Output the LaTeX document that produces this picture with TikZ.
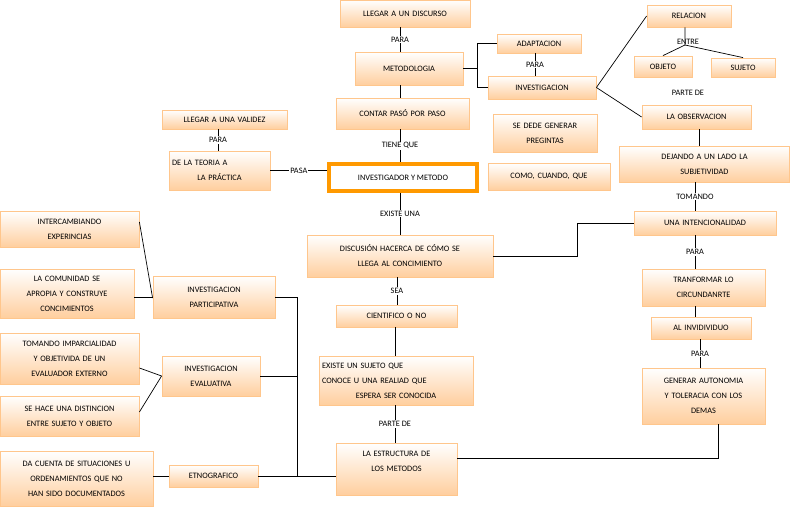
\documentclass[tikz,border=0pt]{standalone}
\usepackage{fontspec}
\setmainfont{Carlito}
\begin{document}
\begin{tikzpicture}[x=1pt,y=-1pt,
 box/.style={draw=orange!45,line width=0.8pt,top color=white,bottom color=orange!38,inner sep=1pt,align=center,font=\fontsize{8.3}{15}\selectfont},
 lbl/.style={fill=white,inner sep=1pt,font=\fontsize{8.3}{10}\selectfont},
 ln/.style={draw=black,line width=0.7pt}]
\useasboundingbox (0,0) rectangle (790,526);
\newcommand\bx[6]{\node[box,minimum width=#4pt,minimum height=#5pt,text width=#4pt-6pt] (#1) at (#2,#3) {#6};}
\bx{d1}{405}{13.5}{130}{27}{LLEGAR A UN DISCURSO}
\bx{met}{409}{68.5}{108}{33}{METODOLOGIA}
\bx{con}{402.5}{113.5}{133}{31}{CONTAR PASÓ POR PASO}
\node[draw=orange!80!yellow,line width=3.5pt,fill=white,minimum width=148pt,minimum height=27pt,font=\fontsize{8.3}{10}\selectfont] (inv) at (403,177.5) {INVESTIGADOR Y METODO};
\bx{ada}{539}{43.5}{84}{19}{ADAPTACION}
\bx{ivg}{542}{87.5}{108}{23}{\raggedright INVESTIGACION}
\bx{rel}{689}{16}{84}{22}{RELACION}
\bx{obj}{663}{66.5}{58}{21}{OBJETO}
\bx{suj}{743}{67.5}{64}{19}{SUJETO}
\bx{obs}{696.5}{117}{109}{24}{\raggedright LA OBSERVACION}
\bx{sed}{545}{133}{104}{38}{SE DEDE GENERAR\\PREGINTAS}
\bx{com}{549}{176.5}{122}{27}{COMO, CUANDO, QUE}
\bx{dej}{704.5}{164}{170}{36}{DEJANDO A UN LADO LA\\SUBJETIVIDAD}
\bx{una}{705}{223}{142}{24}{UNA INTENCIONALIDAD}
\bx{llv}{224.5}{119.5}{125}{19}{LLEGAR A UNA VALIDEZ}
\bx{teo}{219.5}{170.5}{101}{39}{\raggedright DE LA TEORIA  A\\LA PRÁCTICA}
\bx{int}{69.5}{229}{139}{36}{INTERCAMBIANDO\\EXPERINCIAS}
\bx{dis}{400}{256}{186}{42}{DISCUSIÓN HACERCA DE CÓMO SE\\LLEGA AL CONCIMIENTO}
\bx{tra}{703.5}{287.5}{123}{37}{TRANFORMAR LO\\CIRCUNDANRTE}
\bx{comu}{67}{293.5}{134}{49}{LA COMUNIDAD SE\\APROPIA Y CONSTRUYE\\CONCIMIENTOS}
\bx{par}{214}{297}{122}{42}{INVESTIGACION\\PARTICIPATIVA}
\bx{cie}{396.5}{316}{121}{22}{CIENTIFICO O NO}
\bx{al}{701}{328}{100}{22}{AL INVIDIVIDUO}
\bx{tom}{69.5}{358.5}{139}{51}{TOMANDO IMPARCIALIDAD\\Y OBJETIVIDA DE UN\\EVALUADOR EXTERNO}
\bx{eva}{211}{376}{98}{40}{INVESTIGACION\\EVALUATIVA}
\bx{exi}{396}{380.5}{154}{49}{\raggedright EXISTE UN SUJETO QUE\\CONOCE U UNA REALIAD QUE\\ESPERA SER CONOCIDA}
\bx{gen}{703.5}{396}{123}{56}{GENERAR AUTONOMIA\\Y TOLERACIA CON LOS\\DEMAS}
\bx{seh}{69.5}{416}{139}{40}{SE HACE UNA DISTINCION\\ENTRE SUJETO Y OBJETO}
\bx{est}{396.5}{469}{121}{52}{LA ESTRUCTURA DE\\LOS METODOS\\~}
\bx{da}{76.5}{478.5}{153}{55}{DA CUENTA DE SITUACIONES U\\ORDENAMIENTOS QUE NO\\HAN SIDO DOCUMENTADOS}
\bx{etn}{213.5}{476}{89}{22}{ETNOGRAFICO}
% center column
\coordinate (c1) at (400,0);
\draw[ln] (d1.south -| c1) -- node[lbl]{PARA} (met.north -| c1);
\draw[ln] (met.south -| c1) -- (con.north -| c1);
\draw[ln] (con.south -| c1) -- node[lbl]{TIENE QUE} (inv.north -| c1);
\draw[ln] (inv.south -| c1) -- node[lbl]{EXISTE UNA} (dis.north -| c1);
\coordinate (c2) at (397,0);
\draw[ln] (dis.south -| c2) -- node[lbl]{SEA} (cie.north -| c2);
\coordinate (c3) at (395,0);
\draw[ln] (cie.south -| c3) -- (exi.north -| c3);
\draw[ln] (exi.south -| c3) -- node[lbl]{PARTE DE} (est.north -| c3);
% metodologia
\coordinate (m1) at (477,0);
\draw[ln] (met.east) -- (met.east -| m1) (ada.west -| m1) -- (m1 |- ivg.west) (ada.west -| m1) -- (ada.west);
\draw[ln,line width=1.4pt] (m1 |- ivg.west) -- (ivg.west);
\coordinate (a1) at (535,0);
\draw[ln] (ada.south -| a1) -- node[lbl]{PARA} (ivg.north -| a1);
\draw[ln] (ivg.east) -- (rel.west);
\draw[ln] (ivg.east) -- (obs.west);
\coordinate (e1) at (685,45);
\node[lbl] at (688,42) {ENTRE};
\draw[ln] (rel.south -| e1) -- (e1) -- (obj.north);
\draw[ln] (e1) -- (suj.north);
\node[lbl] (pd) at (688,93) {PARTE DE};
\coordinate (o1) at (699,0);
\draw[ln] (obs.south -| o1) -- (dej.north -| o1);
\coordinate (t1) at (695,0);
\draw[ln] (dej.south -| t1) -- node[lbl]{TOMANDO} (una.north -| t1);
\draw[ln] (una.west) -- (577,223) -- (577,256) -- (dis.east);
\draw[ln] (una.south -| t1) -- node[lbl]{PARA} (tra.north -| t1);
\draw[ln] (tra.south -| t1) -- (al.north -| t1);
\coordinate (p1) at (700,0);
\draw[ln] (al.south -| p1) -- node[lbl]{PARA} (gen.north -| p1);
\draw[ln] (gen.south -| 718,0) -- (718,458) -- (est.east |- 0,458);
% left trunk
\coordinate (tr) at (297,0);
\draw[ln] (par.east) -- (par.east -| tr) -- (tr |- etn.east);
\draw[ln] (eva.east) -- (eva.east -| tr);
\draw[ln] (etn.east) -- (est.west |- etn.east);
\draw[ln] (da.east |- etn.west) -- (etn.west);
\draw[ln] (int.east |- 0,222) -- (par.west |- 0,298);
\draw[ln] (comu.east |- par.west) -- (par.west);
\draw[ln] (tom.east |- 0,368) -- (eva.west) -- (seh.east |- 0,412);
% validez
\coordinate (v1) at (218,0);
\draw[ln] (llv.south -| v1) -- node[lbl]{PARA} (teo.north -| v1);
\draw[ln] (teo.east) -- node[lbl]{PASA} (inv.west |- teo.east);
\end{tikzpicture}
\end{document}
